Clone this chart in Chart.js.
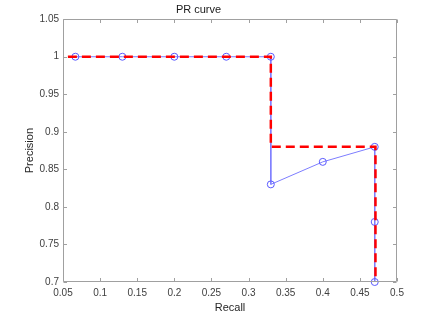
<!DOCTYPE html>
<html><head><meta charset="utf-8">
<script src="https://cdn.jsdelivr.net/npm/chart.js@4/dist/chart.umd.min.js"></script>
<style>html,body{margin:0;padding:0;background:#fff;}canvas{display:block;}</style>
</head><body>
<canvas id="c" width="426" height="323"></canvas>
<script>
const recall = [0.0667, 0.13, 0.2, 0.27, 0.33, 0.33, 0.40, 0.47, 0.47, 0.47];
const precision = [1, 1, 1, 1, 1, 0.83, 0.86, 0.88, 0.78, 0.70];
const interpRecall = [0, 0.33, 0.33, 0.471, 0.471];
const interpPrecision = [1, 1, 0.88, 0.88, 0.70];
const xTicks = [0.05,0.1,0.15,0.2,0.25,0.3,0.35,0.4,0.45,0.5];
const yTicks = [0.7,0.75,0.8,0.85,0.9,0.95,1,1.05];

const FONT = "'Liberation Sans', Arial, sans-serif";
const boxPlugin = {
  id: 'box',
  afterDatasetsDraw(chart) {
    const {ctx, chartArea: a, scales: {x, y}} = chart;
    ctx.save();
    ctx.strokeStyle = '#a0a0a0';
    ctx.lineWidth = 1;
    ctx.beginPath();
    const L = Math.round(a.left)+0.5, R = Math.round(a.right)-0.5, T = Math.round(a.top)+0.5, B = Math.round(a.bottom)-0.5;
    ctx.rect(L, T, R-L, B-T);
    const tl = 3.5;
    xTicks.forEach(v => {
      const px = Math.round(x.getPixelForValue(v)) + 0.5;
      ctx.moveTo(px, B); ctx.lineTo(px, B - tl);
      ctx.moveTo(px, T); ctx.lineTo(px, T + tl);
    });
    yTicks.forEach(v => {
      const py = Math.round(y.getPixelForValue(v)) + 0.5;
      ctx.moveTo(L, py); ctx.lineTo(L + tl, py);
      ctx.moveTo(R, py); ctx.lineTo(R - tl, py);
    });
    ctx.stroke();
    ctx.restore();
  }
};

new Chart(document.getElementById('c'), {
  type: 'scatter',
  data: {
    datasets: [
      {
        data: recall.map((r, i) => ({x: r, y: precision[i]})),
        showLine: true,
        clip: false,
        borderColor: 'rgb(125,125,255)',
        borderWidth: 1,
        pointRadius: 3.5,
        pointBorderColor: 'rgb(90,90,255)',
        pointBackgroundColor: 'rgba(0,0,0,0)',
        pointBorderWidth: 1,
        order: 2
      },
      {
        data: interpRecall.map((r, i) => ({x: r, y: interpPrecision[i]})),
        showLine: true,
        borderColor: '#ff0000',
        borderWidth: 2.5,
        borderDash: [9, 5],
        pointRadius: 0,
        order: 1
      }
    ]
  },
  options: {
    responsive: false,
    animation: false,
    layout: {padding: {left: 0, right: 29, top: 0, bottom: 0}},
    plugins: {
      legend: {display: false},
      tooltip: {enabled: false},
      title: {
        display: true, text: 'PR curve', color: '#1a1a1a',
        font: {family: FONT, size: 11, weight: 'normal'},
        padding: {top: 3, bottom: 3}
      }
    },
    scales: {
      x: {
        type: 'linear', min: 0.05, max: 0.5,
        afterFit(s) { s.height = 41; },
        afterBuildTicks(s) { s.ticks = xTicks.map(v => ({value: v})); },
        grid: {display: false, drawTicks: false},
        border: {display: false},
        ticks: {color: '#404040', padding: 5, maxRotation: 0, autoSkip: false,
          font: {family: FONT, size: 10}, callback: v => String(+v.toFixed(2))},
        title: {display: true, text: 'Recall', color: '#262626',
          font: {family: FONT, size: 11}, padding: {top: 0, bottom: 8.5}}
      },
      y: {
        type: 'linear', min: 0.7, max: 1.05,
        afterFit(s) { s.width = 63; },
        afterBuildTicks(s) { s.ticks = yTicks.map(v => ({value: v})); },
        grid: {display: false, drawTicks: false},
        border: {display: false},
        ticks: {color: '#404040', padding: 4, autoSkip: false,
          font: {family: FONT, size: 10}, callback: v => String(+v.toFixed(2))},
        title: {display: true, text: 'Precision', color: '#262626',
          font: {family: FONT, size: 11}, padding: {top: 23.5, bottom: 0}}
      }
    }
  },
  plugins: [boxPlugin]
});
</script>
</body></html>
